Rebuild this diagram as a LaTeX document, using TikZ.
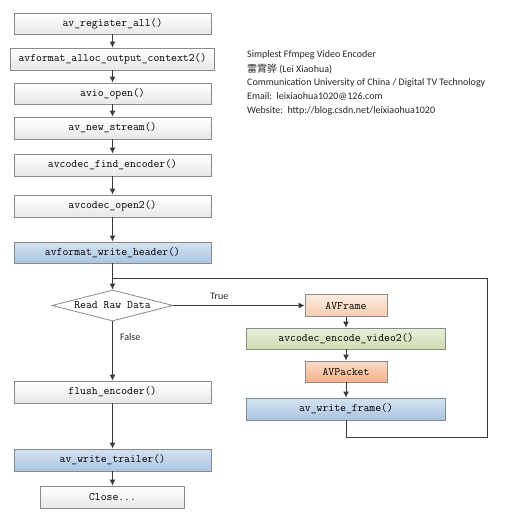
\documentclass[tikz,border=0pt]{standalone}
\usepackage{fontspec}
\setmainfont{Carlito}
\newfontfamily\boxfont{Latin Modern Mono}
\newfontfamily\cjk{Noto Sans CJK SC}
\usetikzlibrary{shapes.geometric,arrows.meta}
\definecolor{lineC}{HTML}{3A3A3A}
\definecolor{bordC}{HTML}{8A8A8A}
\definecolor{blueT}{RGB}{212,227,242}
\definecolor{blueB}{RGB}{170,197,226}
\tikzset{
  fbox/.style={draw=bordC, line width=0.8pt, minimum width=197pt, minimum height=21pt, inner sep=0pt,
    font=\boxfont\fontsize{11.4}{12}\selectfont, top color=white, bottom color=black!9},
  bluebox/.style={fbox, top color=blueT, bottom color=blueB},
  framebox/.style={fbox, minimum width=82pt, top color={rgb,255:red,252;green,236;blue,224}, bottom color={rgb,255:red,245;green,205;blue,178}},
  pktbox/.style={fbox, minimum width=82pt, top color={rgb,255:red,250;green,220;blue,198}, bottom color={rgb,255:red,242;green,178;blue,138}},
  greenbox/.style={fbox, minimum width=199pt, top color={rgb,255:red,232;green,238;blue,216}, bottom color={rgb,255:red,208;green,221;blue,180}},
  decision/.style={draw=bordC, line width=0.8pt, diamond, shape aspect=3.9, minimum width=121pt, minimum height=31pt,
    inner sep=0pt, font=\boxfont\fontsize{11.4}{12}\selectfont, fill=white},
  conn/.style={draw=lineC, line width=1pt},
  arr/.style={conn, -{Latex[length=6pt,width=6pt]}},
  info/.style={anchor=west, inner sep=0pt, font=\fontsize{10}{12}\selectfont, text=black!85},
  lbl/.style={inner sep=0pt, font=\fontsize{10}{12}\selectfont, text=black!85},
}
\begin{document}
\begin{tikzpicture}[x=1pt,y=-1pt]
\useasboundingbox (0,0) rectangle (520,514);
% left column
\node[fbox] (b1) at (112.5,23.5) {av\_register\_all()};
\node[fbox, minimum width=204pt, minimum height=22pt] (b2) at (112.5,59) {avformat\_alloc\_output\_context2()};
\node[fbox] (b3) at (112.5,93.5) {avio\_open()};
\node[fbox, minimum height=22pt] (b4) at (112.5,128) {av\_new\_stream()};
\node[fbox, minimum height=22pt] (b5) at (112.5,165) {avcodec\_find\_encoder()};
\node[fbox, minimum height=22pt] (b6) at (112.5,206) {avcodec\_open2()};
\node[bluebox] (b7) at (112.5,252.5) {avformat\_write\_header()};
\node[decision] (d) at (112.5,305.5) {Read Raw Data};
\node[fbox, minimum height=22pt] (fl) at (112.5,392) {flush\_encoder()};
\node[bluebox, minimum height=22pt] (tr) at (112.5,460) {av\_write\_trailer()};
\node[fbox, minimum width=144pt, minimum height=22pt] (cl) at (112.5,497) {Close...};
% right column
\node[framebox, minimum height=22pt] (af) at (346,305.5) {AVFrame};
\node[greenbox] (enc) at (346,338.5) {avcodec\_encode\_video2()};
\node[pktbox] (ap) at (346,371.5) {AVPacket};
\node[bluebox, minimum width=199pt, minimum height=22pt] (wf) at (346,409) {av\_write\_frame()};
% info text
\node[info] (t1) at (247,55) {Simplest Ffmpeg Video Encoder};
\node[info] (t2) at (247,69) {{\cjk 雷霄骅} (Lei Xiaohua)};
\node[info] (t3) at (247,83) {Communication University of China / Digital TV Technology};
\node[info] (t4) at (247,97) {Email:\ \ leixiaohua1020@126.com};
\node[info] (t5) at (247,111) {Website:\ \ http://blog.csdn.net/leixiaohua1020};
% connectors
\draw[arr] (b1) -- (b2);
\draw[arr] (b2) -- (b3);
\draw[arr] (b3) -- (b4);
\draw[arr] (b4) -- (b5);
\draw[arr] (b5) -- (b6);
\draw[arr] (b6) -- (b7);
\draw[arr] (b7) -- (d);
\draw[arr] (d) -- node[lbl, pos=0.35, above=5pt] {True} (af);
\draw[arr] (d) -- node[lbl, pos=0.27, right=7pt] {False} (fl);
\draw[arr] (fl) -- (tr);
\draw[arr] (tr) -- (cl);
\draw[arr] (af) -- (enc);
\draw[arr] (enc) -- (ap);
\draw[arr] (ap) -- (wf);
\coordinate (lpB) at (487,437);
\coordinate (lpT) at (112.5,278);
\draw[conn] (wf.south) |- (lpB) |- (lpT);
\end{tikzpicture}
\end{document}
